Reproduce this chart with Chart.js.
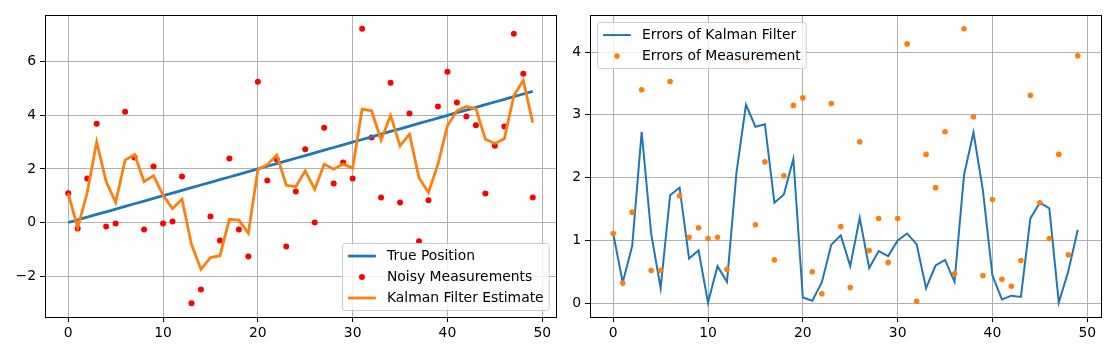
<!DOCTYPE html>
<html><head><meta charset="utf-8">
<script src="https://cdn.jsdelivr.net/npm/chart.js@4"></script>
<style>
html,body{margin:0;padding:0;background:#fff;}
#wrap{position:relative;width:1116px;height:356px;overflow:hidden;background:#fff;}
canvas{position:absolute;top:0;}
</style></head><body>
<div id="wrap">
<canvas id="c1" width="560" height="356" style="left:0;width:560px;height:356px"></canvas>
<canvas id="c2" width="556" height="356" style="left:560px;width:556px;height:356px"></canvas>
</div>
<script>
// ---------- data ----------
const steps = [0,1,2,3,4,5,6,7,8,9,10,11,12,13,14,15,16,17,18,19,20,21,22,23,24,25,26,27,28,29,30,31,32,33,34,35,36,37,38,39,40,41,42,43,44,45,46,47,48,49];
const truePosition = [0.0,0.1,0.2,0.3,0.4,0.5,0.6,0.7,0.8,0.9,1.0,1.1,1.2,1.3,1.4,1.5,1.6,1.7,1.8,1.9,2.0,2.1,2.2,2.3,2.4,2.5,2.6,2.7,2.8,2.9,3.0,3.1,3.2,3.3,3.4,3.5,3.6,3.7,3.8,3.9,4.0,4.1,4.2,4.3,4.4,4.5,4.6,4.7,4.8,4.9];
const noisyMeasurements = [1.09,-0.22,1.64,3.69,-0.15,-0.04,4.14,2.43,-0.26,2.09,-0.04,0.04,1.72,-3.02,-2.50,0.22,-0.67,2.39,-0.26,-1.27,5.26,1.57,2.35,-0.90,1.16,2.74,0.00,3.54,1.46,2.24,1.64,7.24,3.17,0.93,5.22,0.75,4.07,-0.70,0.83,4.33,5.63,4.48,3.96,3.63,1.08,2.87,3.59,7.05,5.56,0.93];
const kalmanEstimate = [1.09,-0.20,1.11,3.01,1.53,0.75,2.33,2.54,1.53,1.75,1.02,0.52,0.87,-0.82,-1.75,-1.31,-1.24,0.12,0.09,-0.40,1.97,2.16,2.52,1.39,1.34,1.93,1.24,2.18,1.99,2.18,2.03,4.23,4.17,3.08,4.00,2.86,3.30,1.67,1.12,2.18,3.61,4.17,4.33,4.25,3.11,2.95,3.13,4.73,5.31,3.73];
const kalmanErrors = [1.11,0.33,0.91,2.73,1.11,0.24,1.72,1.84,0.71,0.84,0.01,0.59,0.34,2.08,3.16,2.81,2.85,1.60,1.73,2.30,0.09,0.04,0.33,0.93,1.08,0.59,1.36,0.56,0.83,0.75,1.00,1.11,0.94,0.24,0.60,0.69,0.34,2.04,2.72,1.79,0.44,0.06,0.12,0.10,1.35,1.60,1.51,0.01,0.51,1.17];
const measurementErrors = [1.11,0.32,1.45,3.40,0.52,0.52,3.53,1.71,1.05,1.20,1.03,1.05,0.54,4.28,3.85,1.25,2.25,0.69,2.03,3.15,3.27,0.50,0.15,3.18,1.22,0.25,2.57,0.84,1.35,0.65,1.35,4.13,0.03,2.37,1.84,2.73,0.47,4.37,2.97,0.44,1.65,0.38,0.27,0.68,3.31,1.60,1.03,2.37,0.77,3.94];
const xTicks = [0,10,20,30,40,50];
const leftYTicks = [-2,0,2,4,6];
const rightYTicks = [0,1,2,3,4];

// ---------- helpers ----------
const FONT_FAMILY = '"DejaVu Sans", "Liberation Sans", sans-serif';
const FS = 13.9;
const BLUE = '#1f77b4', ORANGE = '#ff7f0e', RED = '#ff0000';
const pts = (ys) => steps.map((x, i) => ({x: x, y: ys[i]}));
const fmt = (v) => (v < 0 ? '\u2212' + Math.abs(v) : String(v));

function axis(min, max, ticks, fitProp, fitVal, pad) {
  return {
    type: 'linear', min: min, max: max,
    afterBuildTicks: (s) => { s.ticks = ticks.map(v => ({value: v})); },
    afterFit: (s) => { s[fitProp] = fitVal; },
    grid: { color: '#b0b0b0', lineWidth: 1, drawTicks: true, tickLength: 5, tickColor: '#000', tickWidth: 1 },
    border: { display: false },
    ticks: { color: '#000', font: { family: FONT_FAMILY, size: FS }, padding: pad, maxRotation: 0, autoSkip: false,
             callback: (v) => fmt(v) }
  };
}

const framePlugin = {
  id: 'mplFrame',
  afterDatasetsDraw(chart) {
    const a = chart.chartArea, ctx = chart.ctx;
    ctx.save();
    ctx.strokeStyle = '#000'; ctx.lineWidth = 1;
    ctx.strokeRect(a.left + 0.5, a.top + 0.5, a.right - a.left, a.bottom - a.top);
    ctx.restore();
  }
};

const legendPlugin = {
  id: 'mplLegend',
  afterDraw(chart, args, opts) {
    if (!opts || !opts.items) return;
    const ctx = chart.ctx, a = chart.chartArea;
    const pad = 0.4 * FS, space = 0.5 * FS, hl = 2 * FS, htp = 0.8 * FS, bap = 0.5 * FS, rowH = 14;
    ctx.save();
    ctx.font = FS + 'px ' + FONT_FAMILY;
    let tw = 0;
    opts.items.forEach(it => { tw = Math.max(tw, ctx.measureText(it.label).width); });
    const w = pad * 2 + hl + htp + tw;
    const h = pad * 2 + opts.items.length * rowH + (opts.items.length - 1) * space;
    let x0, y0;
    if (opts.loc === 'lower right') { x0 = a.right - bap - w; y0 = a.bottom - bap - h; }
    else { x0 = a.left + bap; y0 = a.top + bap; }
    x0 = Math.round(x0) + 0.5; y0 = Math.round(y0) + 0.5;
    const r = 0.2 * FS;
    ctx.beginPath();
    ctx.moveTo(x0 + r, y0);
    ctx.lineTo(x0 + w - r, y0); ctx.quadraticCurveTo(x0 + w, y0, x0 + w, y0 + r);
    ctx.lineTo(x0 + w, y0 + h - r); ctx.quadraticCurveTo(x0 + w, y0 + h, x0 + w - r, y0 + h);
    ctx.lineTo(x0 + r, y0 + h); ctx.quadraticCurveTo(x0, y0 + h, x0, y0 + h - r);
    ctx.lineTo(x0, y0 + r); ctx.quadraticCurveTo(x0, y0, x0 + r, y0);
    ctx.closePath();
    ctx.fillStyle = 'rgba(255,255,255,0.8)'; ctx.fill();
    ctx.strokeStyle = '#cccccc'; ctx.lineWidth = 1; ctx.stroke();
    opts.items.forEach((it, i) => {
      const cy = y0 + pad + rowH / 2 + i * (rowH + space);
      const hx = x0 + pad;
      if (it.type === 'line') {
        ctx.beginPath(); ctx.moveTo(hx, cy); ctx.lineTo(hx + hl, cy);
        ctx.strokeStyle = it.color; ctx.lineWidth = it.width; ctx.stroke();
      } else {
        ctx.beginPath(); ctx.arc(hx + hl / 2, cy, it.radius, 0, Math.PI * 2);
        ctx.fillStyle = it.color; ctx.fill();
      }
      ctx.fillStyle = '#000'; ctx.textBaseline = 'middle'; ctx.textAlign = 'left';
      ctx.fillText(it.label, hx + hl + htp, cy + 0.5);
    });
    ctx.restore();
  }
};

const common = {
  responsive: false, animation: false, devicePixelRatio: 1,
  plugins: { legend: { display: false }, tooltip: { enabled: false } },
  elements: { line: { tension: 0 } }
};

// ---------- left chart ----------
new Chart(document.getElementById('c1'), {
  type: 'line',
  data: { datasets: [
    { label: 'True Position', data: pts(truePosition), borderColor: BLUE, borderWidth: 2.8, pointRadius: 0, order: 2, fill: false },
    { label: 'Noisy Measurements', data: pts(noisyMeasurements), showLine: false, pointRadius: 3, pointBorderWidth: 0, pointBackgroundColor: RED, borderColor: RED, order: 3 },
    { label: 'Kalman Filter Estimate', data: pts(kalmanEstimate), borderColor: ORANGE, borderWidth: 2.8, pointRadius: 0, order: 1, fill: false }
  ]},
  options: Object.assign({}, common, {
    layout: { padding: { left: 0, top: 15, right: 4, bottom: 0 } },
    scales: {
      x: axis(-2.45, 51.45, xTicks, 'height', 39, 3),
      y: axis(-3.53, 7.75, leftYTicks, 'width', 45, 4)
    },
    plugins: { legend: { display: false }, tooltip: { enabled: false },
      mplLegend: { loc: 'lower right', items: [
        { type: 'line', color: BLUE, width: 2.8, label: 'True Position' },
        { type: 'dot', color: RED, radius: 3, label: 'Noisy Measurements' },
        { type: 'line', color: ORANGE, width: 2.8, label: 'Kalman Filter Estimate' }
      ]}
    }
  }),
  plugins: [framePlugin, legendPlugin]
});

// ---------- right chart ----------
new Chart(document.getElementById('c2'), {
  type: 'line',
  data: { datasets: [
    { label: 'Errors of Kalman Filter', data: pts(kalmanErrors), borderColor: BLUE, borderWidth: 2, pointRadius: 0, order: 2, fill: false },
    { label: 'Errors of Measurement', data: pts(measurementErrors), showLine: false, pointRadius: 2.8, pointBorderWidth: 0, pointBackgroundColor: ORANGE, borderColor: ORANGE, order: 1 }
  ]},
  options: Object.assign({}, common, {
    layout: { padding: { left: 0, top: 15, right: 15, bottom: 0 } },
    scales: {
      x: axis(-2.45, 51.45, xTicks, 'height', 39, 3),
      y: axis(-0.22, 4.59, rightYTicks, 'width', 30, 4)
    },
    plugins: { legend: { display: false }, tooltip: { enabled: false },
      mplLegend: { loc: 'upper left', items: [
        { type: 'line', color: BLUE, width: 2, label: 'Errors of Kalman Filter' },
        { type: 'dot', color: ORANGE, radius: 2.8, label: 'Errors of Measurement' }
      ]}
    }
  }),
  plugins: [framePlugin, legendPlugin]
});
</script>
</body></html>
